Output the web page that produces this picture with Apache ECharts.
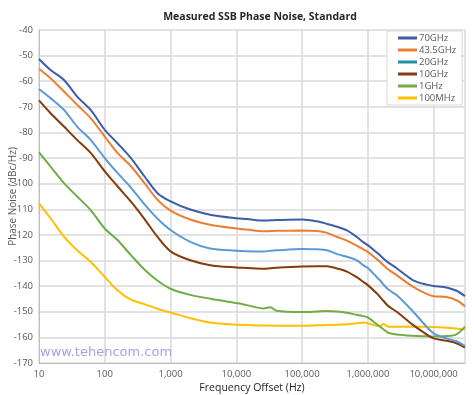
<!DOCTYPE html>
<html>
<head>
<meta charset="utf-8">
<script src="https://cdn.jsdelivr.net/npm/echarts@6/dist/echarts.min.js"></script>
<style>
  html, body { margin: 0; padding: 0; background: #fff; }
  #chart { width: 474px; height: 395px; }
</style>
</head>
<body>
<div id="chart"></div>
<script>
// Frequency offsets (Hz)
const freqs = [10, 15, 24, 38, 61, 100, 156, 250, 400, 630, 1000, 2000, 4000, 10000, 14500, 26000, 33000, 41000,
  100000, 167000, 240000, 340000, 480000, 680000, 850000, 1000000, 1360000, 1530000, 1720000, 2050000, 2740000,
  4900000, 7800000, 10000000, 15700000, 22300000, 30000000];

const seriesNames = ['70GHz', '43.5GHz', '20GHz', '10GHz', '1GHz', '100MHz'];

const pn70GHz = [-51.3, -55.6, -59.5, -66, -71.2, -79, -84.2, -90, -97.1, -103.6, -106.9, -110.1, -112.1, -113.5, -113.8, -114.4, -114.3, -114.2,
  -114.0, -114.7, -115.7, -116.8, -118.2, -120.8, -122.8, -124, -126.8, -127.9, -129.2, -130.8, -133,
  -137.7, -139.4, -139.9, -140.5, -141.8, -143.9];
const pn43GHz = [-55.2, -58.8, -64, -69.2, -74.4, -81.6, -88, -93.2, -99.7, -106.2, -110.5, -114, -116, -117.5, -117.9, -118.6, -118.5, -118.4,
  -118.3, -118.5, -119.2, -120.8, -122.2, -124.2, -125.6, -126.6, -129.4, -130.5, -131.8, -133.5, -135.7,
  -140.3, -143, -143.9, -144.2, -145.5, -147.8];
const pn20GHz = [-63, -66.6, -71.2, -77.7, -82.9, -90, -95.8, -101.5, -108, -113.6, -118.1, -122.7, -125.3, -126.2, -126.4, -126.5, -126.2, -126,
  -125.5, -125.6, -126, -127.5, -128.5, -129.9, -131.8, -132.9, -136.4, -137.7, -139.3, -141.3, -143.5,
  -150, -155.8, -158.4, -160.4, -161.5, -163.4];
const pn10GHz = [-67.5, -72.5, -77.7, -82.9, -88, -95.2, -101, -107, -113.7, -120.7, -126.4, -129.9, -131.8, -132.7, -132.9, -133.2, -133, -132.8,
  -132.3, -132.2, -132.2, -133.1, -134.3, -136.5, -138.3, -139.6, -142.8, -144.2, -145.7, -147.8, -150,
  -155.2, -158.8, -160.4, -161.3, -162.3, -164];
const pn1GHz = [-87.8, -93.3, -99.8, -105, -110.3, -117.5, -122, -127.9, -133.5, -137.8, -141, -143.4, -144.9, -146.6, -147.4, -148.7, -148.2, -149.6,
  -150.1, -149.9, -149.7, -149.9, -150.4, -151.2, -151.7, -152.2, -154.8, -155.8, -156.8, -158.2, -158.9,
  -159.4, -159.6, -159.7, -159.5, -158.8, -155.8];
const pn100MHz = [-107.7, -113.5, -120.7, -126, -130.5, -136.4, -141.6, -145.3, -147, -148.8, -150.3, -152.5, -154.2, -155.1, -155.2, -155.4, -155.4, -155.5,
  -155.5, -155.3, -155.2, -155.1, -154.9, -154.5, -154.2, -154.5, -155.5, -155.6, -154.8, -155.8, -155.8,
  -155.8, -155.8, -155.9, -156.2, -156.5, -156.9];

const seriesValues = [pn70GHz, pn43GHz, pn20GHz, pn10GHz, pn1GHz, pn100MHz];
const lineColors = ['#3d5da8', '#ed7d31', '#5b9bd5', '#843c0c', '#70ad47', '#ffc000'];
const legendColors = ['#3d5da8', '#ed7d31', '#1f93a3', '#843c0c', '#70ad47', '#ffc000'];

const chart = echarts.init(document.getElementById('chart'), null, { renderer: 'canvas' });
const FONT = '"Open Sans", sans-serif';

function fmtFreq(v) {
  const lg = Math.log10(v);
  if (Math.abs(lg - Math.round(lg)) > 1e-6) return '';
  return Math.round(v).toLocaleString('en-US');
}

chart.setOption({
  animation: false,
  backgroundColor: '#fff',
  textStyle: { fontFamily: FONT },
  title: {
    text: 'Measured SSB Phase Noise, Standard',
    left: 255, top: 7, textAlign: 'center',
    textStyle: { fontFamily: FONT, fontSize: 10.5, fontWeight: 'bold', color: '#262626' }
  },
  graphic: [{
    type: 'text', left: 40, top: 346, z: 1,
    style: { text: 'www.tehencom.com', font: '13px "DejaVu Sans", sans-serif', fill: '#a3a3e6' }
  }],
  legend: {
    orient: 'vertical',
    left: 387, top: 31,
    padding: [2, 6, 2, 11],
    itemGap: 2,
    itemWidth: 19, itemHeight: 3,
    icon: 'rect',
    backgroundColor: '#fff',
    borderColor: '#d9d9d9', borderWidth: 1,
    textStyle: { fontFamily: FONT, fontSize: 9.5, color: '#595959', padding: [0, 0, 0, -3] },
    data: seriesNames.map((n, i) => ({ name: n, itemStyle: { color: legendColors[i] } }))
  },
  grid: { left: 39, right: 9, top: 30, bottom: 32, containLabel: false, outerBoundsMode: 'none' },
  xAxis: {
    type: 'log', logBase: 10, min: 10, max: 30000000,
    name: 'Frequency Offset (Hz)', nameLocation: 'middle', nameGap: 20, nameMoveOverlap: false,
    nameTextStyle: { fontFamily: FONT, fontSize: 10.5, color: '#262626' },
    axisLine: { lineStyle: { color: '#bfbfbf', width: 1 } },
    axisTick: { show: false },
    minorTick: { show: false },
    axisLabel: { formatter: fmtFreq, fontFamily: FONT, fontSize: 9.5, color: '#595959', margin: 6, showMaxLabel: false },
    splitLine: { show: true, lineStyle: { color: '#d9d9d9', width: 1.5 } }
  },
  yAxis: {
    type: 'value', min: -170, max: -40, interval: 10,
    name: 'Phase Noise (dBc/Hz)', nameLocation: 'middle', nameGap: 21, nameRotate: 90, nameMoveOverlap: false,
    nameTextStyle: { fontFamily: FONT, fontSize: 10, color: '#595959' },
    axisLine: { show: true, lineStyle: { color: '#bfbfbf', width: 1 } },
    axisTick: { show: false },
    axisLabel: { fontFamily: FONT, fontSize: 9.5, color: '#595959', margin: 6 },
    splitLine: { show: true, lineStyle: { color: '#d9d9d9', width: 1.5 } }
  },
  series: seriesNames.map((n, i) => ({
    name: n, type: 'line', showSymbol: false, symbol: 'none',
    smooth: 0.3,
    color: lineColors[i],
    lineStyle: { width: 2, color: lineColors[i] },
    z: 10 - i,
    data: freqs.map((f, k) => [f, seriesValues[i][k]])
  }))
});
</script>
</body>
</html>
